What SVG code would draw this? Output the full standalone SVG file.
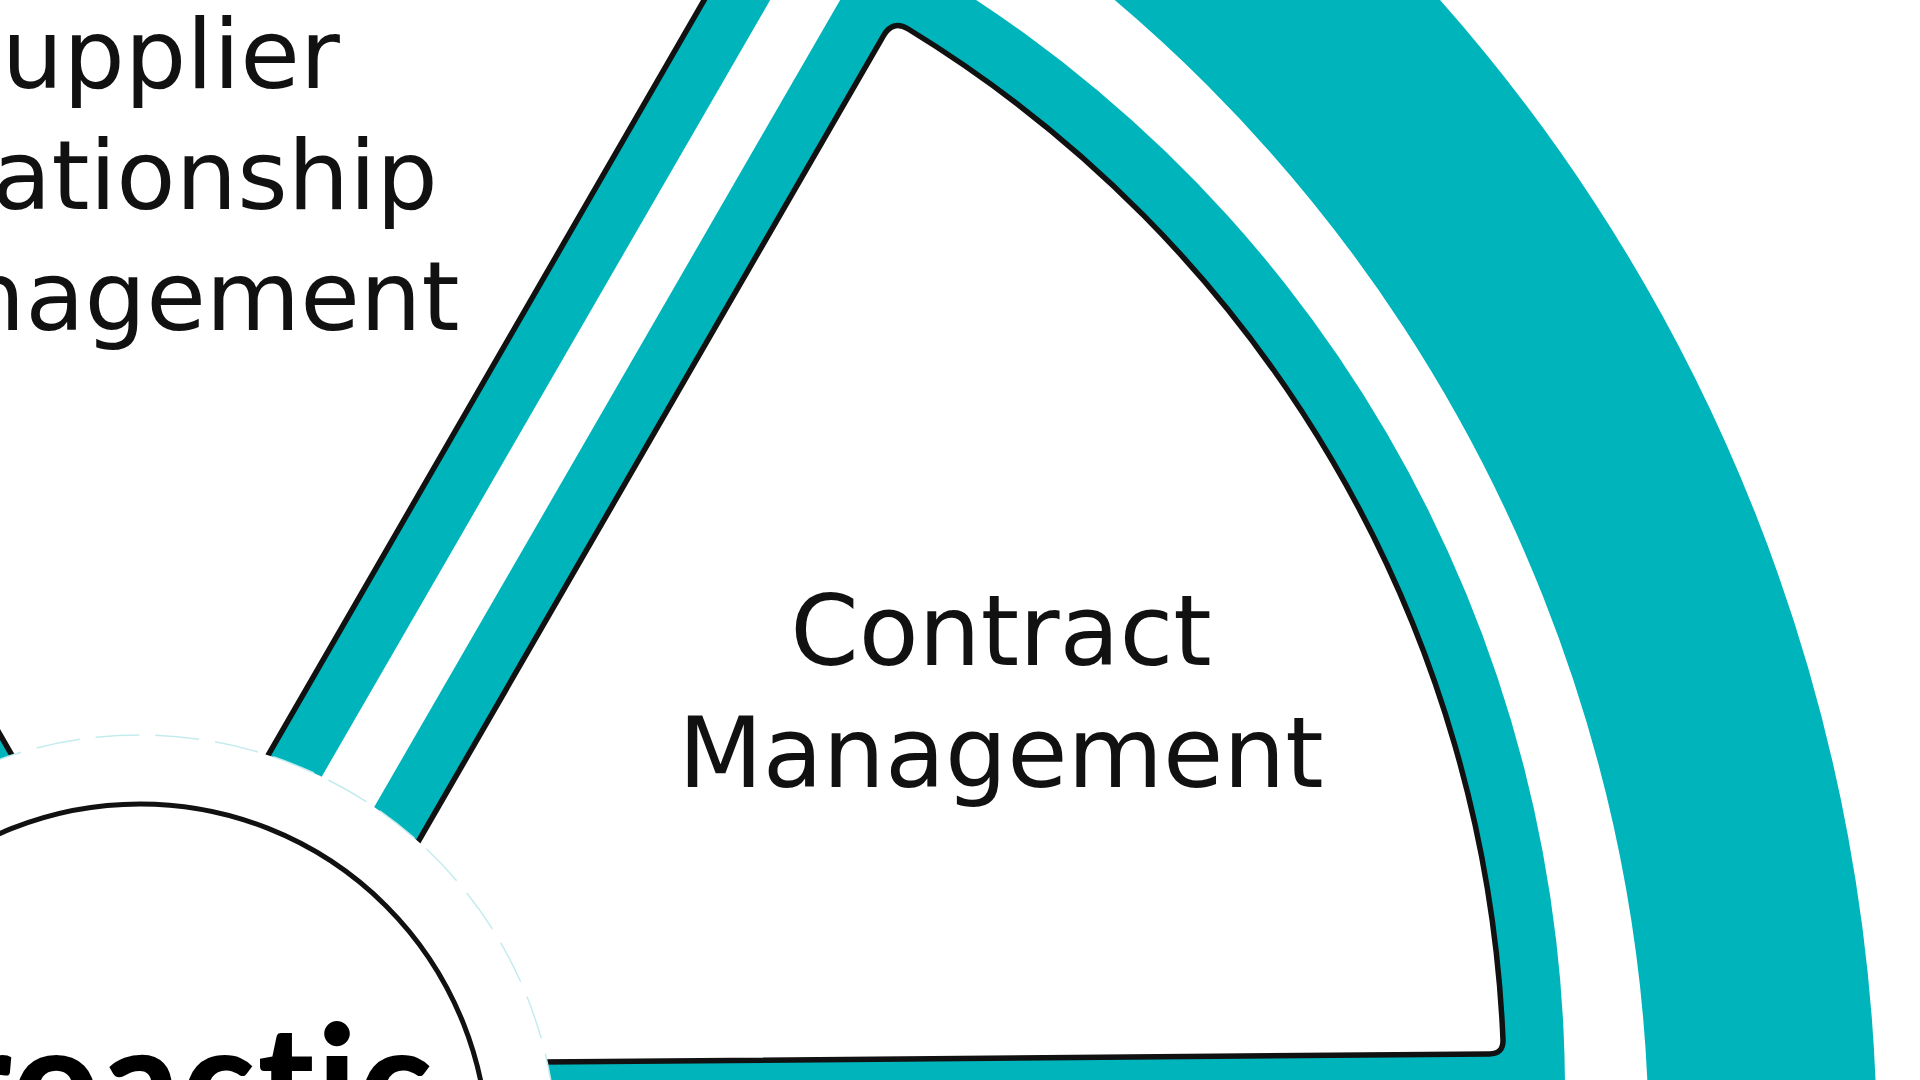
<svg xmlns="http://www.w3.org/2000/svg" width="1920" height="1080" viewBox="0 0 1920 1080">
  <style>
    .teal { fill: #00B4BC; }
    .cell { fill: #FFFFFF; stroke: #111111; stroke-width: 5.5; stroke-linejoin: round; }
    .label { font-family: "DejaVu Sans", "Liberation Sans", sans-serif; fill: #111111; text-anchor: middle; }
    .hubtext { font-family: Lato, "Liberation Sans", sans-serif; font-weight: 900; fill: #000000; }
  </style>
  <rect x="0" y="0" width="1920" height="1080" fill="#FFFFFF"/>

  <g id="outer-ring">
    <circle cx="140" cy="1152" r="1623" fill="none" stroke="#00B4BC" stroke-width="228"/>
  </g>

  <g id="node-supplier-relationship-management">
    <path class="teal" d="M 29.5,900 L 250.5,900 L 827.9,-100 L -547.9,-100 Z"/>
    <path class="cell" d="M 95.5,900 L 184.5,900 L 790.8,-150 L -510.8,-150 Z"/>
    <text class="label" font-size="97" x="140" y="88">Supplier</text>
    <text class="label" font-size="97" x="140" y="209">Relationship</text>
    <text class="label" font-size="97" x="140" y="330">Management</text>
  </g>

  <g id="node-contract-management">
    <path class="teal" d="M 320.5,900 L 874.9,-60.2 A 1307 1307 0 0 1 1564.7,1120 L 300,1120 Z"/>
    <path class="cell" d="M 384.5,900 L 883.7,35.4 Q 892.7,19.8 908.2,29.0 A 1246 1246 0 0 1 1503.0,1039.9 Q 1503.4,1053.9 1489.4,1054.0 L 431,1063 Z"/>
    <text class="label" font-size="98" x="1001" y="665">Contract</text>
    <text class="label" font-size="98" x="1001" y="787">Management</text>
  </g>

  <g id="node-hub">
    <circle cx="140" cy="1152" r="417" fill="#FFFFFF" stroke="#C4ECEE" stroke-width="1.5" stroke-dasharray="44 16"/>
    <circle cx="140" cy="1152" r="348" fill="#FFFFFF" stroke="#111111" stroke-width="5"/>
    <text class="hubtext" font-size="150" letter-spacing="3" x="-45" y="1134">roactic</text>
  </g>

  <g id="connectors"/>
</svg>
